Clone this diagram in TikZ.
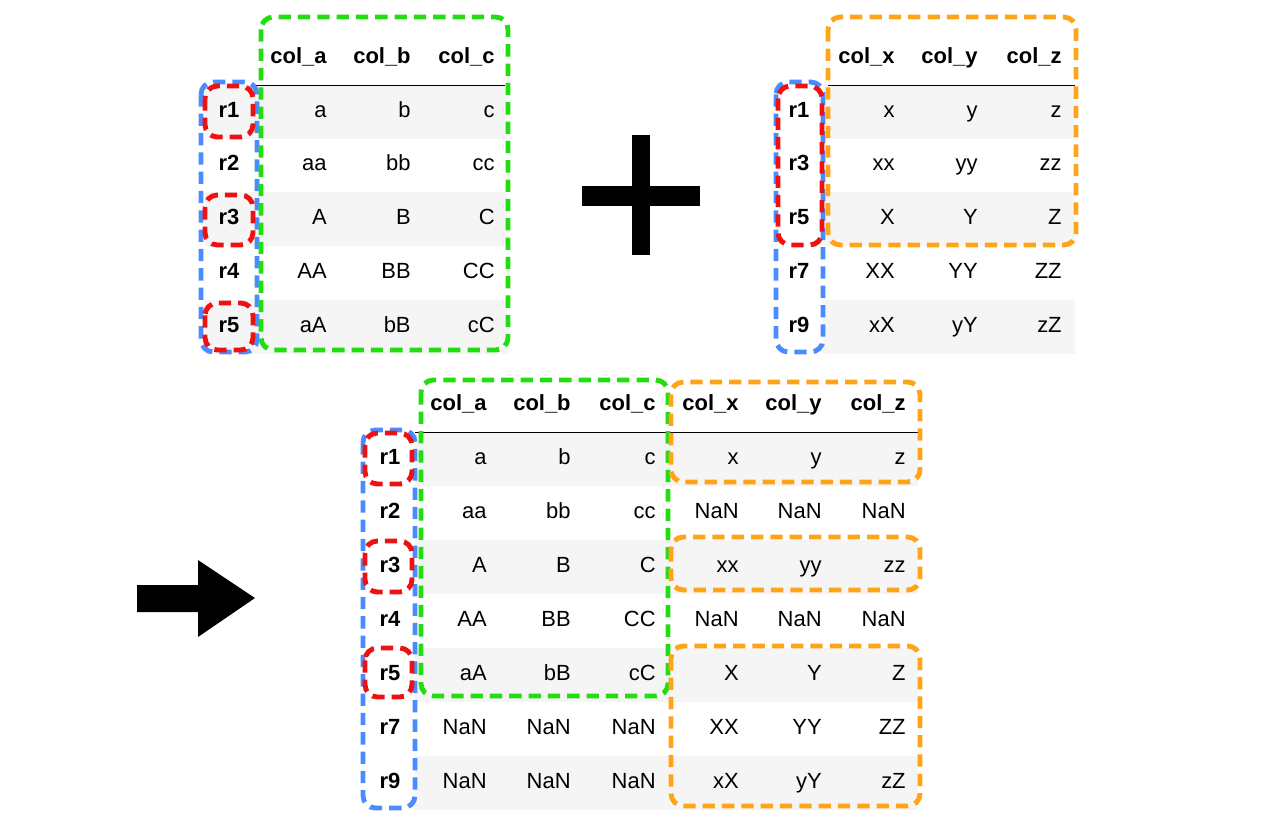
\documentclass[tikz,border=0pt]{standalone}
\usepackage{fontspec}
\setmainfont{Liberation Sans}
\usepackage{tikz}
\usetikzlibrary{positioning}
\definecolor{boxgreen}{HTML}{22DD11}
\definecolor{boxorange}{HTML}{FFA319}
\definecolor{boxred}{HTML}{EE1111}
\definecolor{boxblue}{HTML}{4A8CFF}
\definecolor{rowgray}{HTML}{F5F5F5}
\begin{document}
\begin{tikzpicture}[x=0.02cm,y=-0.02cm,
  every node/.style={font=\fontsize{12.5}{14}\selectfont,inner sep=0pt,
    text height=1.6ex,text depth=.4ex},
  val/.style={anchor=east},
  hdr/.style={anchor=east,font=\fontsize{12.5}{14}\selectfont\bfseries},
  idx/.style={font=\fontsize{12.5}{14}\selectfont\bfseries},
  dbox/.style={draw=#1,line width=2.8pt,dash pattern=on 7pt off 4pt,rounded corners=7pt}]
  \useasboundingbox (0,0) rectangle (1282,839);
  % shaded rows
  \foreach \y in {112,219,327} {
    \fill[rowgray] (205,\y-27) rectangle (507,\y+27);
    \fill[rowgray] (823,\y-27) rectangle (1075,\y+27);
  }
  \foreach \y in {459,567,675,783}
    \fill[rowgray] (415,\y-27) rectangle (918,\y+27);
  % first table
  \draw (255,85) -- (505,85);
  \foreach \t/\x in {col\_a/327,col\_b/411,col\_c/495}
    \node[hdr] (h1-\x) at (\x,58) {\t};
  \foreach \i/\y in {r1/112,r2/165,r3/219,r4/273,r5/327}
    \node[idx] (i1-\i) at (229,\y) {\i};
  \foreach \a/\b/\c/\y in {a/b/c/112,aa/bb/cc/165,A/B/C/219,AA/BB/CC/273,aA/bB/cC/327} {
    \node[val] at (327,\y) {\a};
    \node[val] at (411,\y) {\b};
    \node[val] at (495,\y) {\c};
  }
  \draw[dbox=boxblue] (201,82) rectangle (257,352);
  \draw[dbox=boxred] (205,86) rectangle (253,137);
  \draw[dbox=boxred] (205,195) rectangle (253,245);
  \draw[dbox=boxred] (205,303) rectangle (253,350);
  \draw[dbox=boxgreen] (261,17) rectangle (508,350);
  % plus
  \fill (632,135) rectangle (650,255);
  \fill (582,186) rectangle (700,206);
  % second table
  \draw (828,85) -- (1075,85);
  \foreach \t/\x in {col\_x/895,col\_y/978,col\_z/1062}
    \node[hdr] (h2-\x) at (\x,58) {\t};
  \foreach \i/\y in {r1/112,r3/165,r5/219,r7/273,r9/327}
    \node[idx] (i2-\i) at (799,\y) {\i};
  \foreach \a/\b/\c/\y in {x/y/z/112,xx/yy/zz/165,X/Y/Z/219,XX/YY/ZZ/273,xX/yY/zZ/327} {
    \node[val] at (895,\y) {\a};
    \node[val] at (978,\y) {\b};
    \node[val] at (1062,\y) {\c};
  }
  \draw[dbox=boxblue] (776,82) rectangle (823,352);
  \draw[dbox=boxred] (778,86) rectangle (822,245);
  \draw[dbox=boxorange] (828,17) rectangle (1076,245);
  % arrow
  \fill (137,585) -- (198,585) -- (198,560) -- (255,598) -- (198,637)
    -- (198,612) -- (137,612) -- cycle;
  % result table
  \draw (415,432) -- (918,432);
  \foreach \t/\x in {col\_a/487,col\_b/571,col\_c/656,col\_x/739,col\_y/822,col\_z/906}
    \node[hdr] (h3-\x) at (\x,405) {\t};
  \foreach \i/\y in {r1/459,r2/513,r3/567,r4/621,r5/675,r7/729,r9/783}
    \node[idx] (i3-\i) at (390,\y) {\i};
  \foreach \a/\b/\c/\p/\q/\r/\y in {a/b/c/x/y/z/459,aa/bb/cc/NaN/NaN/NaN/513,
      A/B/C/xx/yy/zz/567,AA/BB/CC/NaN/NaN/NaN/621,aA/bB/cC/X/Y/Z/675,
      NaN/NaN/NaN/XX/YY/ZZ/729,NaN/NaN/NaN/xX/yY/zZ/783} {
    \node[val] at (487,\y) {\a};
    \node[val] at (571,\y) {\b};
    \node[val] at (656,\y) {\c};
    \node[val] at (739,\y) {\p};
    \node[val] at (822,\y) {\q};
    \node[val] at (906,\y) {\r};
  }
  \draw[dbox=boxblue] (363,430) rectangle (415,808);
  \draw[dbox=boxred] (365,433) rectangle (412,484);
  \draw[dbox=boxred] (365,541) rectangle (412,592);
  \draw[dbox=boxred] (365,648) rectangle (412,697);
  \draw[dbox=boxgreen] (421,380) rectangle (668,696);
  \draw[dbox=boxorange] (671,382) rectangle (920,482);
  \draw[dbox=boxorange] (671,537) rectangle (920,590);
  \draw[dbox=boxorange] (671,646) rectangle (920,806);
\end{tikzpicture}
\end{document}
